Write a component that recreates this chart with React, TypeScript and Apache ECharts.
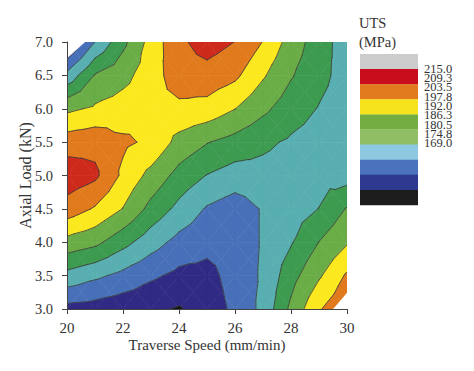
import React, { useEffect, useRef } from "react";
import * as echarts from "echarts";

// Traverse speed (mm/min) grid columns and axial load (kN) grid rows
const traverseSpeeds = [20, 21, 22, 23, 24, 25, 26, 27, 28, 29, 30];
const axialLoads = [3.0, 3.5, 4.0, 4.5, 5.0, 5.5, 6.0, 6.5, 7.0];

// UTS (MPa), one row per axial load
const utsLoad30 = [173.0, 172.3, 171.0, 170.0, 168.5, 171.7, 176.0, 182.0, 193.3, 203.0, 208.0];
const utsLoad35 = [184.4, 181.7, 178.9, 175.8, 173.4, 173.0, 177.0, 181.3, 189.8, 197.0, 204.3];
const utsLoad40 = [195.8, 193.5, 188.2, 183.0, 178.6, 176.5, 177.3, 181.0, 185.8, 192.1, 197.2];
const utsLoad45 = [206.8, 202.9, 197.6, 190.2, 184.7, 179.9, 177.4, 181.0, 183.5, 186.4, 192.4];
const utsLoad50 = [213.0, 210.5, 202.3, 196.0, 190.0, 186.1, 183.8, 184.5, 183.5, 184.5, 183.8];
const utsLoad55 = [206.5, 207.5, 204.5, 202.5, 195.9, 192.3, 189.9, 187.4, 185.5, 184.0, 184.0];
const utsLoad60 = [196.6, 198.7, 200.5, 202.0, 202.2, 201.5, 197.9, 193.3, 188.9, 186.0, 183.5];
const utsLoad65 = [182.2, 192.4, 195.9, 201.0, 206.5, 207.0, 204.7, 198.5, 192.5, 188.0, 184.0];
const utsLoad70 = [167.0, 180.6, 190.5, 200.0, 208.0, 212.0, 209.2, 203.3, 195.3, 188.9, 183.5];
const utsRows = [utsLoad30, utsLoad35, utsLoad40, utsLoad45, utsLoad50, utsLoad55, utsLoad60, utsLoad65, utsLoad70];

// Regions without data (blank corners), in (speed, load)
const blankCorners = [
  [[20, 6.76], [20, 7.0], [20.63, 7.0]],
  [[29.52, 3.0], [30, 3.0], [30, 3.235]],
];

// Contour levels (MPa)
const levels = [169.0, 174.8, 180.5, 186.3, 192.0, 197.8, 203.5, 209.3, 215.0];
// Fill colours of bands: below 169.0, 169.0-174.8, ..., above 215.0
const bandColors = ["#141414", "#302a84", "#4870b9", "#58aeb0", "#3d9b50", "#6aac46", "#fce81e", "#e07a1c", "#ce2a1c", "#cccccc"];
const legendColors = ["#1d1d1d", "#2e3990", "#4b72bd", "#8ec9e2", "#8fbe65", "#74ae42", "#f7e31b", "#e17b1d", "#c80d1c", "#cccccc"];

const FONT = "'Liberation Serif', 'DejaVu Serif', serif";

type P = { x: number; y: number; v: number };

function cellTriangles(i: number, j: number): P[][] {
  const p = (ii: number, jj: number): P => ({ x: traverseSpeeds[ii], y: axialLoads[jj], v: utsRows[jj][ii] });
  const a = p(i, j), b = p(i + 1, j), c = p(i + 1, j + 1), d = p(i, j + 1);
  const m: P = { x: (a.x + b.x) / 2, y: (a.y + d.y) / 2, v: (a.v + b.v + c.v + d.v) / 4 };
  return [[a, b, m], [b, c, m], [c, d, m], [d, a, m]];
}

function clipPoly(poly: P[], keep: (v: number) => number): P[] {
  const out: P[] = [];
  for (let k = 0; k < poly.length; k++) {
    const a = poly[k], b = poly[(k + 1) % poly.length];
    const da = keep(a.v), db = keep(b.v);
    if (da >= 0) out.push(a);
    if ((da >= 0) !== (db >= 0)) {
      const t = da / (da - db);
      out.push({ x: a.x + (b.x - a.x) * t, y: a.y + (b.y - a.y) * t, v: a.v + (b.v - a.v) * t });
    }
  }
  return out;
}

const cells: number[][] = [];
for (let j = 0; j < axialLoads.length - 1; j++) {
  for (let i = 0; i < traverseSpeeds.length - 1; i++) {
    cells.push([traverseSpeeds[i], axialLoads[j], i, j]);
  }
}

function buildOption(): any {
  const legendTop = 54;
  const bandH = 15.1;
  const legendGraphics: any[] = [];
  // legend colour bands, top = highest
  for (let k = bandColors.length - 1, r = 0; k >= 0; k--, r++) {
    legendGraphics.push({
      type: "rect",
      shape: { x: 360, y: legendTop + r * bandH, width: 58, height: bandH + 0.3 },
      style: { fill: legendColors[k] },
    });
  }
  const labels = levels.slice().reverse();
  labels.forEach((lv, r) => {
    legendGraphics.push({
      type: "text",
      x: 424,
      y: 68.5 + r * 9.35,
      style: {
        text: lv.toFixed(1), fontFamily: FONT, fontSize: 12.5, lineHeight: 9,
        fill: "#333", verticalAlign: "middle", align: "left",
      },
    });
  });
  legendGraphics.push({
    type: "text", x: 359, y: 23,
    style: { text: "UTS", fontFamily: FONT, fontSize: 14.5, fill: "#333", verticalAlign: "middle" },
  });
  legendGraphics.push({
    type: "text", x: 359, y: 42,
    style: { text: "(MPa)", fontFamily: FONT, fontSize: 14.5, fill: "#333", verticalAlign: "middle" },
  });

  const axisColor = "#444";
  return {
    animation: false,
    backgroundColor: "#fff",
    grid: { left: 67, top: 42, width: 280, height: 267, containLabel: false },
    xAxis: {
      type: "value", min: 20, max: 30, interval: 2, z: 5,
      axisLine: { show: true, lineStyle: { color: axisColor, width: 1 } },
      axisTick: { show: true, length: 5, lineStyle: { color: axisColor } },
      splitLine: { show: false },
      axisLabel: { color: "#333", fontFamily: FONT, fontSize: 15, margin: 11 },
      name: "Traverse Speed (mm/min)", nameLocation: "middle", nameGap: 28, nameMoveOverlap: false,
      nameTextStyle: { color: "#333", fontFamily: FONT, fontSize: 15 },
    },
    yAxis: {
      type: "value", min: 3, max: 7, interval: 0.5, z: 5,
      axisLine: { show: true, lineStyle: { color: axisColor, width: 1 } },
      axisTick: { show: true, length: 5, lineStyle: { color: axisColor } },
      splitLine: { show: false },
      axisLabel: { color: "#333", fontFamily: FONT, fontSize: 14.5, margin: 14, formatter: (v: number) => v.toFixed(1) },
      name: "Axial Load (kN)", nameLocation: "middle", nameGap: 34, nameMoveOverlap: false,
      nameTextStyle: { color: "#333", fontFamily: FONT, fontSize: 16 },
    },
    graphic: legendGraphics,
    series: [
      {
        type: "custom", silent: true, clip: true, z: 2,
        encode: { x: 0, y: 1 },
        data: cells,
        renderItem: (params: any, api: any) => {
          const i = api.value(2), j = api.value(3);
          const children: any[] = [];
          for (const tri of cellTriangles(i, j)) {
            for (let k = 0; k < bandColors.length; k++) {
              let poly: P[] = tri;
              if (k > 0) poly = clipPoly(poly, (v) => v - levels[k - 1]);
              if (poly.length >= 3 && k < levels.length) poly = clipPoly(poly, (v) => levels[k] - v);
              if (poly.length < 3) continue;
              const pts = poly.map((q) => api.coord([q.x, q.y]));
              children.push({
                type: "polygon", shape: { points: pts },
                style: { fill: bandColors[k], stroke: bandColors[k], lineWidth: 0.6 },
              });
            }
          }
          return { type: "group", children };
        },
      },
      {
        type: "custom", silent: true, clip: true, z: 3,
        encode: { x: 0, y: 1 },
        data: cells,
        renderItem: (params: any, api: any) => {
          const i = api.value(2), j = api.value(3);
          const children: any[] = [];
          for (const tri of cellTriangles(i, j)) {
            for (const L of levels) {
              const pts: number[][] = [];
              for (let e = 0; e < 3; e++) {
                const a = tri[e], b = tri[(e + 1) % 3];
                if ((a.v - L) * (b.v - L) < 0) {
                  const t = (L - a.v) / (b.v - a.v);
                  pts.push(api.coord([a.x + (b.x - a.x) * t, a.y + (b.y - a.y) * t]));
                }
              }
              if (pts.length === 2) {
                children.push({
                  type: "line",
                  shape: { x1: pts[0][0], y1: pts[0][1], x2: pts[1][0], y2: pts[1][1] },
                  style: { stroke: "#3a3a3a", lineWidth: 0.8, lineCap: "round" },
                });
              }
            }
          }
          return { type: "group", children };
        },
      },
      {
        type: "custom", silent: true, clip: true, z: 4,
        encode: { x: 0, y: 1 },
        data: blankCorners.map((poly) => poly[0]),
        renderItem: (params: any, api: any) => {
          const poly = blankCorners[params.dataIndex];
          return {
            type: "polygon",
            shape: { points: poly.map((q) => api.coord(q)) },
            style: { fill: "#ffffff", stroke: "#ffffff", lineWidth: 0.8 },
          };
        },
      },
    ],
  };
}

export default function App() {
  const ref = useRef<HTMLDivElement>(null);
  useEffect(() => {
    const chart = echarts.init(ref.current!, null, { renderer: "svg" });
    chart.setOption(buildOption());
    return () => chart.dispose();
  }, []);
  return (
    <div
      ref={ref}
      style={{ position: "fixed", left: 0, top: 0, width: 474, height: 371, background: "#fff" }}
    />
  );
}
